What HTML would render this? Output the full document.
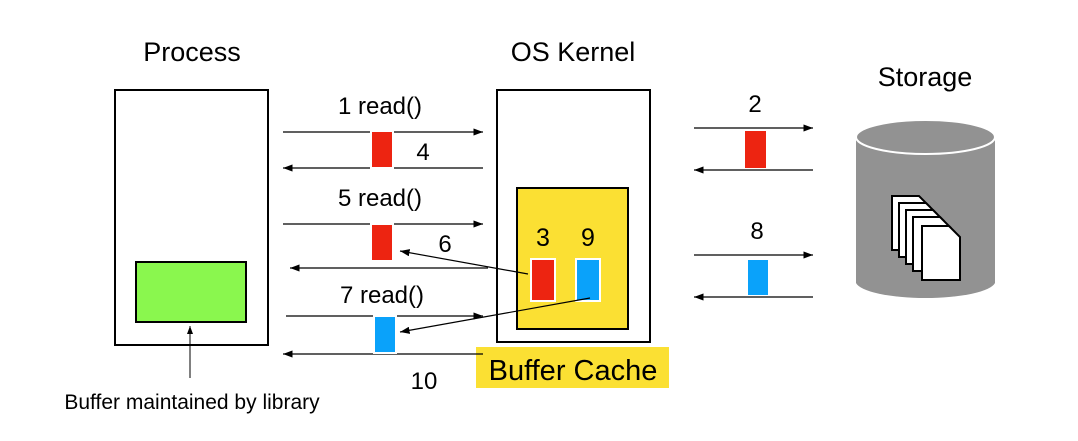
<!DOCTYPE html>
<html><head><style>body{margin:0;background:#fff}</style></head><body>
<svg width="1078" height="436" xmlns="http://www.w3.org/2000/svg" font-family="Liberation Sans, sans-serif">
<defs><marker id="a" markerWidth="8" markerHeight="6" refX="8" refY="3" orient="auto"><path d="M0,0L8,3L0,6z" fill="#000"/></marker></defs>
<text x="192" y="61" font-size="27" text-anchor="middle">Process</text>
<text x="573" y="61" font-size="27" text-anchor="middle">OS Kernel</text>
<text x="925" y="86" font-size="27" text-anchor="middle">Storage</text>
<rect x="115" y="90" width="153" height="255" fill="none" stroke="#000" stroke-width="2"/>
<rect x="136" y="262" width="110" height="60" fill="#8af74e" stroke="#000" stroke-width="2"/>
<line x1="190" y1="378" x2="190" y2="326" stroke="#000" marker-end="url(#a)"/>
<text x="192" y="409" font-size="21" text-anchor="middle">Buffer maintained by library</text>
<rect x="497" y="90" width="153" height="252" fill="none" stroke="#000" stroke-width="2"/>
<rect x="517" y="188" width="111" height="141" fill="#fbe033" stroke="#000" stroke-width="2"/>
<rect x="476" y="347" width="193" height="41" fill="#fbe033"/>
<text x="573" y="380" font-size="29" text-anchor="middle">Buffer Cache</text>
<text x="543" y="246" font-size="25" text-anchor="middle">3</text>
<text x="588" y="246" font-size="25" text-anchor="middle">9</text>
<rect x="531" y="259" width="24" height="42" fill="#ed2411" stroke="#fff" stroke-width="2"/>
<rect x="576" y="259" width="24" height="42" fill="#0aa2fa" stroke="#fff" stroke-width="2"/>
<g stroke="#000" stroke-width="1.2" marker-end="url(#a)">
<line x1="283" y1="132" x2="483" y2="132"/>
<line x1="483" y1="168" x2="283" y2="168"/>
<line x1="283" y1="224" x2="483" y2="224"/>
<line x1="488" y1="268" x2="290" y2="268"/>
<line x1="286" y1="316" x2="483" y2="316"/>
<line x1="483" y1="354" x2="283" y2="354"/>
<line x1="528" y1="274" x2="400" y2="251"/>
<line x1="590" y1="298" x2="400" y2="332"/>
<line x1="694" y1="128" x2="813" y2="128"/>
<line x1="813" y1="170" x2="694" y2="170"/>
<line x1="694" y1="255" x2="813" y2="255"/>
<line x1="813" y1="297" x2="694" y2="297"/>
</g>
<rect x="371" y="131" width="22" height="37" fill="#ed2411" stroke="#fff" stroke-width="2"/>
<rect x="371" y="224" width="22" height="37" fill="#ed2411" stroke="#fff" stroke-width="2"/>
<rect x="374" y="316" width="22" height="37" fill="#0aa2fa" stroke="#fff" stroke-width="2"/>
<rect x="745" y="131" width="21" height="37" fill="#ed2411"/>
<rect x="748" y="260" width="20" height="35" fill="#0aa2fa"/>
<g font-size="24" text-anchor="middle">
<text x="380" y="114">1 read()</text>
<text x="423" y="160">4</text>
<text x="380" y="206">5 read()</text>
<text x="445" y="252">6</text>
<text x="382" y="303">7 read()</text>
<text x="424" y="389">10</text>
<text x="755" y="112">2</text>
<text x="757" y="239">8</text>
</g>
<path d="M856,137 V283 A70,17 0 0 0 995,283 V137 Z" fill="#929292"/>
<ellipse cx="925.5" cy="137" rx="69.5" ry="17" fill="#929292" stroke="#fff" stroke-width="2"/>
<g fill="#fff" stroke="#000" stroke-width="2">
<path d="M892,196 h27 l11,11 v43 h-38 z"/>
<path d="M899,203 h27 l11,11 v43 h-38 z"/>
<path d="M906,210 h27 l11,11 v43 h-38 z"/>
<path d="M913,217 h27 l11,11 v43 h-38 z"/>
<path d="M922,226 h27 l11,11 v43 h-38 z"/>
</g>
</svg>
</body></html>
